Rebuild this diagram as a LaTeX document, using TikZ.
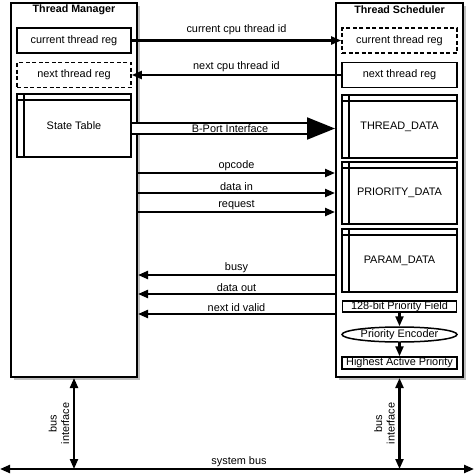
\documentclass[tikz,border=0pt]{standalone}
\usepackage{fontspec}
\setmainfont{Liberation Sans}
\usetikzlibrary{arrows.meta,shapes.geometric,shadows}
\tikzset{
  unit/.style={draw, line width=2pt, fill=white, minimum width=126pt, minimum height=374pt,
    drop shadow={shadow xshift=2.5pt, shadow yshift=-2.5pt, fill=black!50, opacity=0.5}},
  title/.style={font=\fontsize{10.7}{12}\selectfont\bfseries, inner sep=0pt},
  reg/.style={draw, line width=1.7pt, minimum width=114pt, minimum height=25pt, inner sep=0pt},
  sreg/.style={reg, dash pattern=on 4pt off 2.5pt},
  tablebox/.style={reg, minimum height=63pt,
    path picture={
      \draw[line width=1.5pt] ([xshift=7pt]path picture bounding box.north west) -- ([xshift=7pt]path picture bounding box.south west);
      \draw[line width=1.5pt] ([yshift=-6pt]path picture bounding box.north west) -- ([yshift=-6pt]path picture bounding box.north east);
    }},
  small/.style={draw, line width=1.5pt, minimum width=114pt, minimum height=11pt, inner sep=0pt, text height=7.8pt, text depth=2pt},
  sig/.style={line width=2.2pt, -{Triangle[length=10pt,width=8pt]}},
  both/.style={line width=2.2pt, {Triangle[length=10pt,width=8pt]}-{Triangle[length=10pt,width=8pt]}},
  lbl/.style={above, inner sep=1.5pt}
}
\begin{document}
\begin{tikzpicture}[x=1pt, y=-1pt, font=\fontsize{10.9}{12.5}\selectfont]
  \useasboundingbox (0,0) rectangle (474,474);
  % the two units
  \node[unit] (mgr) at (74,190) {};
  \node[unit, minimum width=127pt] (sch) at (399.5,190) {};
  \node[title] (mgrT) at (74,10) {Thread Manager};
  \node[title] (schT) at (399.5,10) {Thread Scheduler};
  % thread manager
  \node[reg] (curL) at (74,40.5) {current thread reg};
  \node[sreg] (nextL) at (74,75) {next thread reg};
  \node[tablebox] (st) at (74,125.5) {State Table};
  % thread scheduler
  \node[sreg, minimum width=115pt] (curR) at (399.5,40.5) {current thread reg};
  \node[reg, minimum width=115pt] (nextR) at (399.5,75) {next thread reg};
  \node[tablebox, minimum width=115pt] (td) at (399.5,126.5) {THREAD\_DATA};
  \node[tablebox, minimum width=115pt, minimum height=62pt] (pd) at (399.5,193) {PRIORITY\_DATA};
  \node[tablebox, minimum width=115pt] (pm) at (399.5,260.5) {PARAM\_DATA};
  \node[small] (field) at (399.5,306.5) {128-bit Priority Field};
  \node[ellipse, draw, line width=1.5pt, minimum width=115pt, minimum height=15pt, inner sep=0pt] (enc) at (399.5,334.5) {Priority Encoder};
  \node[small, minimum width=115pt, minimum height=12pt] (high) at (399.5,363) {Highest Active Priority};
  \draw[sig] (field) -- (enc);
  \draw[sig] (enc) -- (high);
  % signals
  \draw[sig] (curL.east) -- (curR.west) node[lbl, midway, yshift=3pt] {current cpu thread id};
  \draw[sig] (nextR.west) -- (nextL.east) node[lbl, midway, yshift=1pt] {next cpu thread id};
  \draw[line width=2pt, double, double distance=9pt, -{Triangle[length=28pt,width=22pt]}]
    ([yshift=-3pt]st.east) -- ([yshift=-3pt]st.east -| sch.west);
  \node[inner sep=0pt] (bport) at (230,129) {B-Port Interface};
  \draw[sig] (mgr.east |- 0,173) -- (sch.west |- 0,173) node[lbl, midway] {opcode};
  \draw[sig] (mgr.east |- 0,193) -- (sch.west |- 0,193) node[lbl, midway] {data in};
  \draw[sig] (mgr.east |- 0,212) -- (sch.west |- 0,212) node[lbl, midway] {request};
  \draw[sig] (sch.west |- 0,275) -- (mgr.east |- 0,275) node[lbl, midway] {busy};
  \draw[sig] (sch.west |- 0,294) -- (mgr.east |- 0,294) node[lbl, midway] {data out};
  \draw[sig] (sch.west |- 0,314) -- (mgr.east |- 0,314) node[lbl, midway] {next id valid};
  % system bus
  \coordinate (busL) at (0,469);
  \coordinate (busR) at (474,469);
  \draw[both] (busL) -- (busR) node[lbl, midway, xshift=2pt] {system bus};
  \draw[both] (mgr.south) -- (mgr.south |- busL)
    node[midway, xshift=-15pt, rotate=90, align=center] {bus\\interface};
  \draw[both] (sch.south) -- (sch.south |- busR)
    node[midway, xshift=-15pt, rotate=90, align=center] {bus\\interface};
\end{tikzpicture}
\end{document}
